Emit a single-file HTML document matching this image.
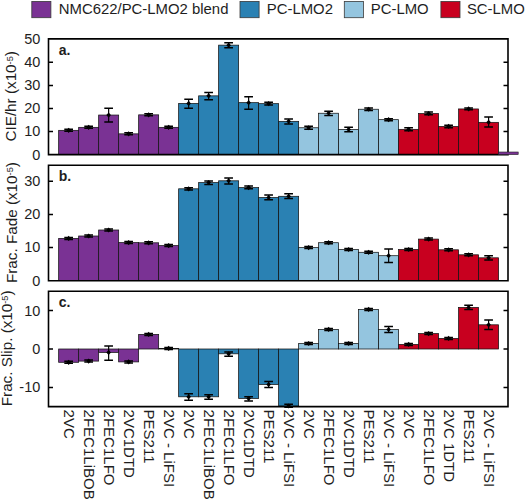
<!DOCTYPE html>
<html><head><meta charset="utf-8"><style>
html,body{margin:0;padding:0;background:#fff;}
body{width:525px;height:501px;overflow:hidden;}
svg{display:block;font-family:"Liberation Sans",sans-serif;}
.tk{font-size:14.5px;fill:#1e1e1e;}
.lt{font-size:14px;font-weight:bold;fill:#1e1e1e;}
.yl{font-size:15px;fill:#1e1e1e;}
.sup{font-size:9px;}
.xl{font-size:15px;fill:#1e1e1e;}
.lg{font-size:14.9px;fill:#1e1e1e;}
</style></head><body>
<svg width="525" height="501" viewBox="0 0 525 501">
<rect x="58.65" y="130.35" width="20" height="24.25" fill="#7a3294" stroke="#151515" stroke-width="0.75"/>
<rect x="78.65" y="127.35" width="20" height="27.25" fill="#7a3294" stroke="#151515" stroke-width="0.75"/>
<rect x="98.65" y="115.05" width="20" height="39.55" fill="#7a3294" stroke="#151515" stroke-width="0.75"/>
<rect x="118.64" y="133.85" width="20" height="20.75" fill="#7a3294" stroke="#151515" stroke-width="0.75"/>
<rect x="138.64" y="114.85" width="20" height="39.75" fill="#7a3294" stroke="#151515" stroke-width="0.75"/>
<rect x="158.64" y="127.35" width="20" height="27.25" fill="#7a3294" stroke="#151515" stroke-width="0.75"/>
<rect x="178.64" y="103.45" width="20" height="51.15" fill="#2a81b3" stroke="#151515" stroke-width="0.75"/>
<rect x="198.64" y="95.85" width="20" height="58.75" fill="#2a81b3" stroke="#151515" stroke-width="0.75"/>
<rect x="218.63" y="45.15" width="20" height="109.45" fill="#2a81b3" stroke="#151515" stroke-width="0.75"/>
<rect x="238.63" y="102.65" width="20" height="51.95" fill="#2a81b3" stroke="#151515" stroke-width="0.75"/>
<rect x="258.63" y="103.65" width="20" height="50.95" fill="#2a81b3" stroke="#151515" stroke-width="0.75"/>
<rect x="278.63" y="121.35" width="20" height="33.25" fill="#2a81b3" stroke="#151515" stroke-width="0.75"/>
<rect x="298.63" y="127.75" width="20" height="26.85" fill="#94c5df" stroke="#151515" stroke-width="0.75"/>
<rect x="318.62" y="113.25" width="20" height="41.35" fill="#94c5df" stroke="#151515" stroke-width="0.75"/>
<rect x="338.62" y="129.45" width="20" height="25.15" fill="#94c5df" stroke="#151515" stroke-width="0.75"/>
<rect x="358.62" y="109.25" width="20" height="45.35" fill="#94c5df" stroke="#151515" stroke-width="0.75"/>
<rect x="378.62" y="119.65" width="20" height="34.95" fill="#94c5df" stroke="#151515" stroke-width="0.75"/>
<rect x="398.62" y="129.35" width="20" height="25.25" fill="#c8001f" stroke="#151515" stroke-width="0.75"/>
<rect x="418.61" y="113.55" width="20" height="41.05" fill="#c8001f" stroke="#151515" stroke-width="0.75"/>
<rect x="438.61" y="126.45" width="20" height="28.15" fill="#c8001f" stroke="#151515" stroke-width="0.75"/>
<rect x="458.61" y="108.95" width="20" height="45.65" fill="#c8001f" stroke="#151515" stroke-width="0.75"/>
<rect x="478.61" y="122.35" width="20" height="32.25" fill="#c8001f" stroke="#151515" stroke-width="0.75"/>
<path d="M64.3 129.35H73M64.3 131.35H73" stroke="#000" stroke-width="1.5" fill="none"/>
<path d="M68.65 129.35V131.35" stroke="#000" stroke-width="1.2" fill="none"/>
<path d="M68.65 127.75L70.95 130.35L68.65 132.95L66.35 130.35Z" fill="#000"/>
<path d="M84.3 126.35H93M84.3 128.35H93" stroke="#000" stroke-width="1.5" fill="none"/>
<path d="M88.65 126.35V128.35" stroke="#000" stroke-width="1.2" fill="none"/>
<path d="M88.65 124.75L90.95 127.35L88.65 129.95L86.35 127.35Z" fill="#000"/>
<path d="M104.3 108.35H112.99M104.3 121.95H112.99" stroke="#000" stroke-width="1.5" fill="none"/>
<path d="M108.64 108.35V121.95" stroke="#000" stroke-width="1.2" fill="none"/>
<path d="M108.64 112.45L110.94 115.05L108.64 117.65L106.34 115.05Z" fill="#000"/>
<path d="M124.29 132.85H132.99M124.29 134.85H132.99" stroke="#000" stroke-width="1.5" fill="none"/>
<path d="M128.64 132.85V134.85" stroke="#000" stroke-width="1.2" fill="none"/>
<path d="M128.64 131.25L130.94 133.85L128.64 136.45L126.34 133.85Z" fill="#000"/>
<path d="M144.29 113.85H152.99M144.29 115.85H152.99" stroke="#000" stroke-width="1.5" fill="none"/>
<path d="M148.64 113.85V115.85" stroke="#000" stroke-width="1.2" fill="none"/>
<path d="M148.64 112.25L150.94 114.85L148.64 117.45L146.34 114.85Z" fill="#000"/>
<path d="M164.29 126.35H172.99M164.29 128.35H172.99" stroke="#000" stroke-width="1.5" fill="none"/>
<path d="M168.64 126.35V128.35" stroke="#000" stroke-width="1.2" fill="none"/>
<path d="M168.64 124.75L170.94 127.35L168.64 129.95L166.34 127.35Z" fill="#000"/>
<path d="M184.29 99.35H192.99M184.29 108.25H192.99" stroke="#000" stroke-width="1.5" fill="none"/>
<path d="M188.64 99.35V108.25" stroke="#000" stroke-width="1.2" fill="none"/>
<path d="M188.64 100.85L190.94 103.45L188.64 106.05L186.34 103.45Z" fill="#000"/>
<path d="M204.29 92.55H212.99M204.29 99.85H212.99" stroke="#000" stroke-width="1.5" fill="none"/>
<path d="M208.64 92.55V99.85" stroke="#000" stroke-width="1.2" fill="none"/>
<path d="M208.64 93.25L210.94 95.85L208.64 98.45L206.34 95.85Z" fill="#000"/>
<path d="M224.28 42.65H232.98M224.28 47.75H232.98" stroke="#000" stroke-width="1.5" fill="none"/>
<path d="M228.63 42.65V47.75" stroke="#000" stroke-width="1.2" fill="none"/>
<path d="M228.63 42.55L230.93 45.15L228.63 47.75L226.33 45.15Z" fill="#000"/>
<path d="M244.28 96.65H252.98M244.28 109.35H252.98" stroke="#000" stroke-width="1.5" fill="none"/>
<path d="M248.63 96.65V109.35" stroke="#000" stroke-width="1.2" fill="none"/>
<path d="M248.63 100.05L250.93 102.65L248.63 105.25L246.33 102.65Z" fill="#000"/>
<path d="M264.28 102.25H272.98M264.28 104.95H272.98" stroke="#000" stroke-width="1.5" fill="none"/>
<path d="M268.63 102.25V104.95" stroke="#000" stroke-width="1.2" fill="none"/>
<path d="M268.63 101.05L270.93 103.65L268.63 106.25L266.33 103.65Z" fill="#000"/>
<path d="M284.28 118.95H292.98M284.28 124.05H292.98" stroke="#000" stroke-width="1.5" fill="none"/>
<path d="M288.63 118.95V124.05" stroke="#000" stroke-width="1.2" fill="none"/>
<path d="M288.63 118.75L290.93 121.35L288.63 123.95L286.33 121.35Z" fill="#000"/>
<path d="M304.27 126.25H312.98M304.27 129.35H312.98" stroke="#000" stroke-width="1.5" fill="none"/>
<path d="M308.62 126.25V129.35" stroke="#000" stroke-width="1.2" fill="none"/>
<path d="M308.62 125.15L310.93 127.75L308.62 130.35L306.32 127.75Z" fill="#000"/>
<path d="M324.27 111.15H332.97M324.27 115.45H332.97" stroke="#000" stroke-width="1.5" fill="none"/>
<path d="M328.62 111.15V115.45" stroke="#000" stroke-width="1.2" fill="none"/>
<path d="M328.62 110.65L330.92 113.25L328.62 115.85L326.32 113.25Z" fill="#000"/>
<path d="M344.27 127.15H352.97M344.27 131.65H352.97" stroke="#000" stroke-width="1.5" fill="none"/>
<path d="M348.62 127.15V131.65" stroke="#000" stroke-width="1.2" fill="none"/>
<path d="M348.62 126.85L350.92 129.45L348.62 132.05L346.32 129.45Z" fill="#000"/>
<path d="M364.27 107.95H372.97M364.27 110.55H372.97" stroke="#000" stroke-width="1.5" fill="none"/>
<path d="M368.62 107.95V110.55" stroke="#000" stroke-width="1.2" fill="none"/>
<path d="M368.62 106.65L370.92 109.25L368.62 111.85L366.32 109.25Z" fill="#000"/>
<path d="M384.27 118.65H392.97M384.27 120.85H392.97" stroke="#000" stroke-width="1.5" fill="none"/>
<path d="M388.62 118.65V120.85" stroke="#000" stroke-width="1.2" fill="none"/>
<path d="M388.62 117.05L390.92 119.65L388.62 122.25L386.32 119.65Z" fill="#000"/>
<path d="M404.26 127.75H412.97M404.26 130.65H412.97" stroke="#000" stroke-width="1.5" fill="none"/>
<path d="M408.62 127.75V130.65" stroke="#000" stroke-width="1.2" fill="none"/>
<path d="M408.62 126.75L410.92 129.35L408.62 131.95L406.31 129.35Z" fill="#000"/>
<path d="M424.26 111.95H432.96M424.26 114.85H432.96" stroke="#000" stroke-width="1.5" fill="none"/>
<path d="M428.61 111.95V114.85" stroke="#000" stroke-width="1.2" fill="none"/>
<path d="M428.61 110.95L430.91 113.55L428.61 116.15L426.31 113.55Z" fill="#000"/>
<path d="M444.26 125.15H452.96M444.26 127.75H452.96" stroke="#000" stroke-width="1.5" fill="none"/>
<path d="M448.61 125.15V127.75" stroke="#000" stroke-width="1.2" fill="none"/>
<path d="M448.61 123.85L450.91 126.45L448.61 129.05L446.31 126.45Z" fill="#000"/>
<path d="M464.26 108.05H472.96M464.26 109.85H472.96" stroke="#000" stroke-width="1.5" fill="none"/>
<path d="M468.61 108.05V109.85" stroke="#000" stroke-width="1.2" fill="none"/>
<path d="M468.61 106.35L470.91 108.95L468.61 111.55L466.31 108.95Z" fill="#000"/>
<path d="M484.26 116.95H492.96M484.26 126.95H492.96" stroke="#000" stroke-width="1.5" fill="none"/>
<path d="M488.61 116.95V126.95" stroke="#000" stroke-width="1.2" fill="none"/>
<path d="M488.61 119.75L490.91 122.35L488.61 124.95L486.31 122.35Z" fill="#000"/>
<path d="M48.5 38.9H508.0V154.6H48.5Z" fill="none" stroke="#000" stroke-width="1.6"/>
<path d="M48.5 131.54H53.0M508.0 131.54H503.5" stroke="#000" stroke-width="1.5"/>
<path d="M48.5 108.48H53.0M508.0 108.48H503.5" stroke="#000" stroke-width="1.5"/>
<path d="M48.5 85.42H53.0M508.0 85.42H503.5" stroke="#000" stroke-width="1.5"/>
<path d="M48.5 62.36H53.0M508.0 62.36H503.5" stroke="#000" stroke-width="1.5"/>
<text transform="translate(40.3 44.2) scale(1 1.06)" text-anchor="end" class="tk">50</text>
<text transform="translate(40.3 67.26) scale(1 1.06)" text-anchor="end" class="tk">40</text>
<text transform="translate(40.3 90.32) scale(1 1.06)" text-anchor="end" class="tk">30</text>
<text transform="translate(40.3 113.38) scale(1 1.06)" text-anchor="end" class="tk">20</text>
<text transform="translate(40.3 136.44) scale(1 1.06)" text-anchor="end" class="tk">10</text>
<text transform="translate(40.3 159.5) scale(1 1.06)" text-anchor="end" class="tk">0</text>
<text x="58.7" y="54.7" class="lt">a.</text>
<text transform="translate(16.4 96.35) rotate(-90) scale(1.018 1)" text-anchor="middle" class="yl">CIE/hr (x10<tspan class="sup" dy="-3.6">-5</tspan><tspan dy="3.6">)</tspan></text>
<rect x="58.65" y="238.4" width="20" height="42.2" fill="#7a3294" stroke="#151515" stroke-width="0.75"/>
<rect x="78.65" y="236" width="20" height="44.6" fill="#7a3294" stroke="#151515" stroke-width="0.75"/>
<rect x="98.65" y="230" width="20" height="50.6" fill="#7a3294" stroke="#151515" stroke-width="0.75"/>
<rect x="118.64" y="242.6" width="20" height="38" fill="#7a3294" stroke="#151515" stroke-width="0.75"/>
<rect x="138.64" y="242.8" width="20" height="37.8" fill="#7a3294" stroke="#151515" stroke-width="0.75"/>
<rect x="158.64" y="245.6" width="20" height="35" fill="#7a3294" stroke="#151515" stroke-width="0.75"/>
<rect x="178.64" y="188.8" width="20" height="91.8" fill="#2a81b3" stroke="#151515" stroke-width="0.75"/>
<rect x="198.64" y="182.6" width="20" height="98" fill="#2a81b3" stroke="#151515" stroke-width="0.75"/>
<rect x="218.63" y="180.8" width="20" height="99.8" fill="#2a81b3" stroke="#151515" stroke-width="0.75"/>
<rect x="238.63" y="187.6" width="20" height="93" fill="#2a81b3" stroke="#151515" stroke-width="0.75"/>
<rect x="258.63" y="197.5" width="20" height="83.1" fill="#2a81b3" stroke="#151515" stroke-width="0.75"/>
<rect x="278.63" y="196.3" width="20" height="84.3" fill="#2a81b3" stroke="#151515" stroke-width="0.75"/>
<rect x="298.63" y="247.6" width="20" height="33" fill="#94c5df" stroke="#151515" stroke-width="0.75"/>
<rect x="318.62" y="242.7" width="20" height="37.9" fill="#94c5df" stroke="#151515" stroke-width="0.75"/>
<rect x="338.62" y="249.5" width="20" height="31.1" fill="#94c5df" stroke="#151515" stroke-width="0.75"/>
<rect x="358.62" y="252.3" width="20" height="28.3" fill="#94c5df" stroke="#151515" stroke-width="0.75"/>
<rect x="378.62" y="255.7" width="20" height="24.9" fill="#94c5df" stroke="#151515" stroke-width="0.75"/>
<rect x="398.62" y="249.5" width="20" height="31.1" fill="#c8001f" stroke="#151515" stroke-width="0.75"/>
<rect x="418.61" y="239.1" width="20" height="41.5" fill="#c8001f" stroke="#151515" stroke-width="0.75"/>
<rect x="438.61" y="249.8" width="20" height="30.8" fill="#c8001f" stroke="#151515" stroke-width="0.75"/>
<rect x="458.61" y="254.8" width="20" height="25.8" fill="#c8001f" stroke="#151515" stroke-width="0.75"/>
<rect x="478.61" y="257.8" width="20" height="22.8" fill="#c8001f" stroke="#151515" stroke-width="0.75"/>
<path d="M64.3 237.4H73M64.3 239.4H73" stroke="#000" stroke-width="1.5" fill="none"/>
<path d="M68.65 237.4V239.4" stroke="#000" stroke-width="1.2" fill="none"/>
<path d="M68.65 235.8L70.95 238.4L68.65 241L66.35 238.4Z" fill="#000"/>
<path d="M84.3 235H93M84.3 237H93" stroke="#000" stroke-width="1.5" fill="none"/>
<path d="M88.65 235V237" stroke="#000" stroke-width="1.2" fill="none"/>
<path d="M88.65 233.4L90.95 236L88.65 238.6L86.35 236Z" fill="#000"/>
<path d="M104.3 229H112.99M104.3 231H112.99" stroke="#000" stroke-width="1.5" fill="none"/>
<path d="M108.64 229V231" stroke="#000" stroke-width="1.2" fill="none"/>
<path d="M108.64 227.4L110.94 230L108.64 232.6L106.34 230Z" fill="#000"/>
<path d="M124.29 241.6H132.99M124.29 243.6H132.99" stroke="#000" stroke-width="1.5" fill="none"/>
<path d="M128.64 241.6V243.6" stroke="#000" stroke-width="1.2" fill="none"/>
<path d="M128.64 240L130.94 242.6L128.64 245.2L126.34 242.6Z" fill="#000"/>
<path d="M144.29 241.8H152.99M144.29 243.8H152.99" stroke="#000" stroke-width="1.5" fill="none"/>
<path d="M148.64 241.8V243.8" stroke="#000" stroke-width="1.2" fill="none"/>
<path d="M148.64 240.2L150.94 242.8L148.64 245.4L146.34 242.8Z" fill="#000"/>
<path d="M164.29 244.6H172.99M164.29 246.6H172.99" stroke="#000" stroke-width="1.5" fill="none"/>
<path d="M168.64 244.6V246.6" stroke="#000" stroke-width="1.2" fill="none"/>
<path d="M168.64 243L170.94 245.6L168.64 248.2L166.34 245.6Z" fill="#000"/>
<path d="M184.29 187.8H192.99M184.29 190.1H192.99" stroke="#000" stroke-width="1.5" fill="none"/>
<path d="M188.64 187.8V190.1" stroke="#000" stroke-width="1.2" fill="none"/>
<path d="M188.64 186.2L190.94 188.8L188.64 191.4L186.34 188.8Z" fill="#000"/>
<path d="M204.29 181.1H212.99M204.29 184.5H212.99" stroke="#000" stroke-width="1.5" fill="none"/>
<path d="M208.64 181.1V184.5" stroke="#000" stroke-width="1.2" fill="none"/>
<path d="M208.64 180L210.94 182.6L208.64 185.2L206.34 182.6Z" fill="#000"/>
<path d="M224.28 177.9H232.98M224.28 183.9H232.98" stroke="#000" stroke-width="1.5" fill="none"/>
<path d="M228.63 177.9V183.9" stroke="#000" stroke-width="1.2" fill="none"/>
<path d="M228.63 178.2L230.93 180.8L228.63 183.4L226.33 180.8Z" fill="#000"/>
<path d="M244.28 186.1H252.98M244.28 188.8H252.98" stroke="#000" stroke-width="1.5" fill="none"/>
<path d="M248.63 186.1V188.8" stroke="#000" stroke-width="1.2" fill="none"/>
<path d="M248.63 185L250.93 187.6L248.63 190.2L246.33 187.6Z" fill="#000"/>
<path d="M264.28 195H272.98M264.28 199.7H272.98" stroke="#000" stroke-width="1.5" fill="none"/>
<path d="M268.63 195V199.7" stroke="#000" stroke-width="1.2" fill="none"/>
<path d="M268.63 194.9L270.93 197.5L268.63 200.1L266.33 197.5Z" fill="#000"/>
<path d="M284.28 193.8H292.98M284.28 198.5H292.98" stroke="#000" stroke-width="1.5" fill="none"/>
<path d="M288.63 193.8V198.5" stroke="#000" stroke-width="1.2" fill="none"/>
<path d="M288.63 193.7L290.93 196.3L288.63 198.9L286.33 196.3Z" fill="#000"/>
<path d="M304.27 246.6H312.98M304.27 248.6H312.98" stroke="#000" stroke-width="1.5" fill="none"/>
<path d="M308.62 246.6V248.6" stroke="#000" stroke-width="1.2" fill="none"/>
<path d="M308.62 245L310.93 247.6L308.62 250.2L306.32 247.6Z" fill="#000"/>
<path d="M324.27 241.7H332.97M324.27 243.7H332.97" stroke="#000" stroke-width="1.5" fill="none"/>
<path d="M328.62 241.7V243.7" stroke="#000" stroke-width="1.2" fill="none"/>
<path d="M328.62 240.1L330.92 242.7L328.62 245.3L326.32 242.7Z" fill="#000"/>
<path d="M344.27 248.5H352.97M344.27 250.5H352.97" stroke="#000" stroke-width="1.5" fill="none"/>
<path d="M348.62 248.5V250.5" stroke="#000" stroke-width="1.2" fill="none"/>
<path d="M348.62 246.9L350.92 249.5L348.62 252.1L346.32 249.5Z" fill="#000"/>
<path d="M364.27 251.3H372.97M364.27 253.3H372.97" stroke="#000" stroke-width="1.5" fill="none"/>
<path d="M368.62 251.3V253.3" stroke="#000" stroke-width="1.2" fill="none"/>
<path d="M368.62 249.7L370.92 252.3L368.62 254.9L366.32 252.3Z" fill="#000"/>
<path d="M384.27 248.9H392.97M384.27 262.5H392.97" stroke="#000" stroke-width="1.5" fill="none"/>
<path d="M388.62 248.9V262.5" stroke="#000" stroke-width="1.2" fill="none"/>
<path d="M388.62 253.1L390.92 255.7L388.62 258.3L386.32 255.7Z" fill="#000"/>
<path d="M404.26 248.5H412.97M404.26 250.5H412.97" stroke="#000" stroke-width="1.5" fill="none"/>
<path d="M408.62 248.5V250.5" stroke="#000" stroke-width="1.2" fill="none"/>
<path d="M408.62 246.9L410.92 249.5L408.62 252.1L406.31 249.5Z" fill="#000"/>
<path d="M424.26 238.1H432.96M424.26 240.1H432.96" stroke="#000" stroke-width="1.5" fill="none"/>
<path d="M428.61 238.1V240.1" stroke="#000" stroke-width="1.2" fill="none"/>
<path d="M428.61 236.5L430.91 239.1L428.61 241.7L426.31 239.1Z" fill="#000"/>
<path d="M444.26 248.8H452.96M444.26 250.8H452.96" stroke="#000" stroke-width="1.5" fill="none"/>
<path d="M448.61 248.8V250.8" stroke="#000" stroke-width="1.2" fill="none"/>
<path d="M448.61 247.2L450.91 249.8L448.61 252.4L446.31 249.8Z" fill="#000"/>
<path d="M464.26 253.8H472.96M464.26 255.8H472.96" stroke="#000" stroke-width="1.5" fill="none"/>
<path d="M468.61 253.8V255.8" stroke="#000" stroke-width="1.2" fill="none"/>
<path d="M468.61 252.2L470.91 254.8L468.61 257.4L466.31 254.8Z" fill="#000"/>
<path d="M484.26 255.7H492.96M484.26 259.9H492.96" stroke="#000" stroke-width="1.5" fill="none"/>
<path d="M488.61 255.7V259.9" stroke="#000" stroke-width="1.2" fill="none"/>
<path d="M488.61 255.2L490.91 257.8L488.61 260.4L486.31 257.8Z" fill="#000"/>
<path d="M48.5 165.2H508.0V280.7H48.5Z" fill="none" stroke="#000" stroke-width="1.6"/>
<path d="M48.5 247.5H53.0M508.0 247.5H503.5" stroke="#000" stroke-width="1.5"/>
<path d="M48.5 214.4H53.0M508.0 214.4H503.5" stroke="#000" stroke-width="1.5"/>
<path d="M48.5 181.3H53.0M508.0 181.3H503.5" stroke="#000" stroke-width="1.5"/>
<text transform="translate(40.3 186.2) scale(1 1.06)" text-anchor="end" class="tk">30</text>
<text transform="translate(40.3 219.3) scale(1 1.06)" text-anchor="end" class="tk">20</text>
<text transform="translate(40.3 252.4) scale(1 1.06)" text-anchor="end" class="tk">10</text>
<text transform="translate(40.3 285.5) scale(1 1.06)" text-anchor="end" class="tk">0</text>
<text x="58.7" y="181" class="lt">b.</text>
<text transform="translate(16.6 222.65) rotate(-90) scale(1.018 1)" text-anchor="middle" class="yl">Frac. Fade (x10<tspan class="sup" dy="-3.6">-5</tspan><tspan dy="3.6">)</tspan></text>
<rect x="58.65" y="349" width="20" height="13.3" fill="#7a3294" stroke="#151515" stroke-width="0.75"/>
<rect x="78.65" y="349" width="20" height="12.1" fill="#7a3294" stroke="#151515" stroke-width="0.75"/>
<rect x="98.65" y="349" width="20" height="3.4" fill="#7a3294" stroke="#151515" stroke-width="0.75"/>
<rect x="118.64" y="349" width="20" height="12.9" fill="#7a3294" stroke="#151515" stroke-width="0.75"/>
<rect x="138.64" y="334.4" width="20" height="14.6" fill="#7a3294" stroke="#151515" stroke-width="0.75"/>
<rect x="158.64" y="348.4" width="20" height="0.6" fill="#7a3294" stroke="#151515" stroke-width="0.75"/>
<rect x="178.64" y="349" width="20" height="47.8" fill="#2a81b3" stroke="#151515" stroke-width="0.75"/>
<rect x="198.64" y="349" width="20" height="47.8" fill="#2a81b3" stroke="#151515" stroke-width="0.75"/>
<rect x="218.63" y="349" width="20" height="4.8" fill="#2a81b3" stroke="#151515" stroke-width="0.75"/>
<rect x="238.63" y="349" width="20" height="49.4" fill="#2a81b3" stroke="#151515" stroke-width="0.75"/>
<rect x="258.63" y="349" width="20" height="35.5" fill="#2a81b3" stroke="#151515" stroke-width="0.75"/>
<rect x="278.63" y="349" width="20" height="57" fill="#2a81b3" stroke="#151515" stroke-width="0.75"/>
<rect x="298.63" y="343.5" width="20" height="5.5" fill="#94c5df" stroke="#151515" stroke-width="0.75"/>
<rect x="318.62" y="329.4" width="20" height="19.6" fill="#94c5df" stroke="#151515" stroke-width="0.75"/>
<rect x="338.62" y="343.5" width="20" height="5.5" fill="#94c5df" stroke="#151515" stroke-width="0.75"/>
<rect x="358.62" y="309.4" width="20" height="39.6" fill="#94c5df" stroke="#151515" stroke-width="0.75"/>
<rect x="378.62" y="329.5" width="20" height="19.5" fill="#94c5df" stroke="#151515" stroke-width="0.75"/>
<rect x="398.62" y="344.4" width="20" height="4.6" fill="#c8001f" stroke="#151515" stroke-width="0.75"/>
<rect x="418.61" y="333.6" width="20" height="15.4" fill="#c8001f" stroke="#151515" stroke-width="0.75"/>
<rect x="438.61" y="338.4" width="20" height="10.6" fill="#c8001f" stroke="#151515" stroke-width="0.75"/>
<rect x="458.61" y="307.4" width="20" height="41.6" fill="#c8001f" stroke="#151515" stroke-width="0.75"/>
<rect x="478.61" y="324.8" width="20" height="24.2" fill="#c8001f" stroke="#151515" stroke-width="0.75"/>
<path d="M64.3 361.3H73M64.3 363.3H73" stroke="#000" stroke-width="1.5" fill="none"/>
<path d="M68.65 361.3V363.3" stroke="#000" stroke-width="1.2" fill="none"/>
<path d="M68.65 359.7L70.95 362.3L68.65 364.9L66.35 362.3Z" fill="#000"/>
<path d="M84.3 360.1H93M84.3 362.1H93" stroke="#000" stroke-width="1.5" fill="none"/>
<path d="M88.65 360.1V362.1" stroke="#000" stroke-width="1.2" fill="none"/>
<path d="M88.65 358.5L90.95 361.1L88.65 363.7L86.35 361.1Z" fill="#000"/>
<path d="M104.3 346H112.99M104.3 360.2H112.99" stroke="#000" stroke-width="1.5" fill="none"/>
<path d="M108.64 346V360.2" stroke="#000" stroke-width="1.2" fill="none"/>
<path d="M108.64 349.8L110.94 352.4L108.64 355L106.34 352.4Z" fill="#000"/>
<path d="M124.29 360.9H132.99M124.29 362.9H132.99" stroke="#000" stroke-width="1.5" fill="none"/>
<path d="M128.64 360.9V362.9" stroke="#000" stroke-width="1.2" fill="none"/>
<path d="M128.64 359.3L130.94 361.9L128.64 364.5L126.34 361.9Z" fill="#000"/>
<path d="M144.29 333.4H152.99M144.29 335.4H152.99" stroke="#000" stroke-width="1.5" fill="none"/>
<path d="M148.64 333.4V335.4" stroke="#000" stroke-width="1.2" fill="none"/>
<path d="M148.64 331.8L150.94 334.4L148.64 337L146.34 334.4Z" fill="#000"/>
<path d="M164.29 347.4H172.99M164.29 349.4H172.99" stroke="#000" stroke-width="1.5" fill="none"/>
<path d="M168.64 347.4V349.4" stroke="#000" stroke-width="1.2" fill="none"/>
<path d="M168.64 345.8L170.94 348.4L168.64 351L166.34 348.4Z" fill="#000"/>
<path d="M184.29 393.7H192.99M184.29 400.3H192.99" stroke="#000" stroke-width="1.5" fill="none"/>
<path d="M188.64 393.7V400.3" stroke="#000" stroke-width="1.2" fill="none"/>
<path d="M188.64 394.2L190.94 396.8L188.64 399.4L186.34 396.8Z" fill="#000"/>
<path d="M204.29 394.7H212.99M204.29 399.3H212.99" stroke="#000" stroke-width="1.5" fill="none"/>
<path d="M208.64 394.7V399.3" stroke="#000" stroke-width="1.2" fill="none"/>
<path d="M208.64 394.2L210.94 396.8L208.64 399.4L206.34 396.8Z" fill="#000"/>
<path d="M224.28 352.1H232.98M224.28 356.3H232.98" stroke="#000" stroke-width="1.5" fill="none"/>
<path d="M228.63 352.1V356.3" stroke="#000" stroke-width="1.2" fill="none"/>
<path d="M228.63 351.2L230.93 353.8L228.63 356.4L226.33 353.8Z" fill="#000"/>
<path d="M244.28 396.8H252.98M244.28 401H252.98" stroke="#000" stroke-width="1.5" fill="none"/>
<path d="M248.63 396.8V401" stroke="#000" stroke-width="1.2" fill="none"/>
<path d="M248.63 395.8L250.93 398.4L248.63 401L246.33 398.4Z" fill="#000"/>
<path d="M264.28 381.4H272.98M264.28 387.6H272.98" stroke="#000" stroke-width="1.5" fill="none"/>
<path d="M268.63 381.4V387.6" stroke="#000" stroke-width="1.2" fill="none"/>
<path d="M268.63 381.9L270.93 384.5L268.63 387.1L266.33 384.5Z" fill="#000"/>
<path d="M284.28 404.2H292.98M284.28 407.2H292.98" stroke="#000" stroke-width="1.5" fill="none"/>
<path d="M288.63 404.2V407.2" stroke="#000" stroke-width="1.2" fill="none"/>
<path d="M288.63 403.4L290.93 406L288.63 408.6L286.33 406Z" fill="#000"/>
<path d="M304.27 342.5H312.98M304.27 344.5H312.98" stroke="#000" stroke-width="1.5" fill="none"/>
<path d="M308.62 342.5V344.5" stroke="#000" stroke-width="1.2" fill="none"/>
<path d="M308.62 340.9L310.93 343.5L308.62 346.1L306.32 343.5Z" fill="#000"/>
<path d="M324.27 328.4H332.97M324.27 330.4H332.97" stroke="#000" stroke-width="1.5" fill="none"/>
<path d="M328.62 328.4V330.4" stroke="#000" stroke-width="1.2" fill="none"/>
<path d="M328.62 326.8L330.92 329.4L328.62 332L326.32 329.4Z" fill="#000"/>
<path d="M344.27 342.5H352.97M344.27 344.5H352.97" stroke="#000" stroke-width="1.5" fill="none"/>
<path d="M348.62 342.5V344.5" stroke="#000" stroke-width="1.2" fill="none"/>
<path d="M348.62 340.9L350.92 343.5L348.62 346.1L346.32 343.5Z" fill="#000"/>
<path d="M364.27 308.4H372.97M364.27 310.4H372.97" stroke="#000" stroke-width="1.5" fill="none"/>
<path d="M368.62 308.4V310.4" stroke="#000" stroke-width="1.2" fill="none"/>
<path d="M368.62 306.8L370.92 309.4L368.62 312L366.32 309.4Z" fill="#000"/>
<path d="M384.27 326.4H392.97M384.27 332.6H392.97" stroke="#000" stroke-width="1.5" fill="none"/>
<path d="M388.62 326.4V332.6" stroke="#000" stroke-width="1.2" fill="none"/>
<path d="M388.62 326.9L390.92 329.5L388.62 332.1L386.32 329.5Z" fill="#000"/>
<path d="M404.26 343.4H412.97M404.26 345.4H412.97" stroke="#000" stroke-width="1.5" fill="none"/>
<path d="M408.62 343.4V345.4" stroke="#000" stroke-width="1.2" fill="none"/>
<path d="M408.62 341.8L410.92 344.4L408.62 347L406.31 344.4Z" fill="#000"/>
<path d="M424.26 332.6H432.96M424.26 334.6H432.96" stroke="#000" stroke-width="1.5" fill="none"/>
<path d="M428.61 332.6V334.6" stroke="#000" stroke-width="1.2" fill="none"/>
<path d="M428.61 331L430.91 333.6L428.61 336.2L426.31 333.6Z" fill="#000"/>
<path d="M444.26 337.4H452.96M444.26 339.4H452.96" stroke="#000" stroke-width="1.5" fill="none"/>
<path d="M448.61 337.4V339.4" stroke="#000" stroke-width="1.2" fill="none"/>
<path d="M448.61 335.8L450.91 338.4L448.61 341L446.31 338.4Z" fill="#000"/>
<path d="M464.26 305.3H472.96M464.26 309.5H472.96" stroke="#000" stroke-width="1.5" fill="none"/>
<path d="M468.61 305.3V309.5" stroke="#000" stroke-width="1.2" fill="none"/>
<path d="M468.61 304.8L470.91 307.4L468.61 310L466.31 307.4Z" fill="#000"/>
<path d="M484.26 320H492.96M484.26 329.6H492.96" stroke="#000" stroke-width="1.5" fill="none"/>
<path d="M488.61 320V329.6" stroke="#000" stroke-width="1.2" fill="none"/>
<path d="M488.61 322.2L490.91 324.8L488.61 327.4L486.31 324.8Z" fill="#000"/>
<path d="M48.5 291.3H508.0V406.6H48.5Z" fill="none" stroke="#000" stroke-width="1.6"/>
<path d="M48.5 387.4H53.0M508.0 387.4H503.5" stroke="#000" stroke-width="1.5"/>
<path d="M48.5 349H53.0M508.0 349H503.5" stroke="#000" stroke-width="1.5"/>
<path d="M48.5 310.6H53.0M508.0 310.6H503.5" stroke="#000" stroke-width="1.5"/>
<text transform="translate(40.3 315.5) scale(1 1.06)" text-anchor="end" class="tk">10</text>
<text transform="translate(40.3 353.9) scale(1 1.06)" text-anchor="end" class="tk">0</text>
<text transform="translate(40.3 392.3) scale(1 1.06)" text-anchor="end" class="tk">-10</text>
<text x="58.7" y="307.1" class="lt">c.</text>
<text transform="translate(11.9 348.35) rotate(-90) scale(1.018 1)" text-anchor="middle" class="yl">Frac. Slip. (x10<tspan class="sup" dy="-3.6">-5</tspan><tspan dy="3.6">)</tspan></text>
<rect x="498.6" y="152" width="19.6" height="2.6" fill="#7a3294" stroke="#222" stroke-width="0.6"/>
<text transform="translate(63.85 409.6) rotate(90)" class="xl">2VC</text>
<text transform="translate(83.85 409.6) rotate(90)" class="xl">2FEC1LiBOB</text>
<text transform="translate(103.84 409.6) rotate(90)" class="xl">2FEC1LFO</text>
<text transform="translate(123.84 409.6) rotate(90)" class="xl">2VC1DTD</text>
<text transform="translate(143.84 409.6) rotate(90)" class="xl">PES211</text>
<text transform="translate(163.84 409.6) rotate(90)" class="xl">2VC - LiFSI</text>
<text transform="translate(183.84 409.6) rotate(90)" class="xl">2VC</text>
<text transform="translate(203.84 409.6) rotate(90)" class="xl">2FEC1LiBOB</text>
<text transform="translate(223.83 409.6) rotate(90)" class="xl">2FEC1LFO</text>
<text transform="translate(243.83 409.6) rotate(90)" class="xl">2VC1DTD</text>
<text transform="translate(263.83 409.6) rotate(90)" class="xl">PES211</text>
<text transform="translate(283.83 409.6) rotate(90)" class="xl">2VC - LiFSI</text>
<text transform="translate(303.82 409.6) rotate(90)" class="xl">2VC</text>
<text transform="translate(323.82 409.6) rotate(90)" class="xl">2FEC1LFO</text>
<text transform="translate(343.82 409.6) rotate(90)" class="xl">2VC1DTD</text>
<text transform="translate(363.82 409.6) rotate(90)" class="xl">PES211</text>
<text transform="translate(383.82 409.6) rotate(90)" class="xl">2VC - LiFSI</text>
<text transform="translate(403.81 409.6) rotate(90)" class="xl">2VC</text>
<text transform="translate(423.81 409.6) rotate(90)" class="xl">2FEC1LFO</text>
<text transform="translate(443.81 409.6) rotate(90)" class="xl">2VC 1DTD</text>
<text transform="translate(463.81 409.6) rotate(90)" class="xl">PES211</text>
<text transform="translate(483.81 409.6) rotate(90)" class="xl">2VC - LiFSI</text>
<rect x="31.8" y="1.4" width="19.1" height="16.3" fill="#7a3294" stroke="#3a3a3a" stroke-width="0.8"/>
<text transform="translate(58.8 14.3) scale(1 1.04)" class="lg">NMC622/PC-LMO2 blend</text>
<rect x="240" y="1.4" width="19.1" height="16.3" fill="#2a81b3" stroke="#3a3a3a" stroke-width="0.8"/>
<text transform="translate(266.8 14.3) scale(1 1.04)" class="lg">PC-LMO2</text>
<rect x="344.3" y="1.4" width="19.1" height="16.3" fill="#94c5df" stroke="#3a3a3a" stroke-width="0.8"/>
<text transform="translate(370.8 14.3) scale(1 1.04)" class="lg">PC-LMO</text>
<rect x="440.9" y="1.4" width="19.1" height="16.3" fill="#c8001f" stroke="#3a3a3a" stroke-width="0.8"/>
<text transform="translate(466.9 14.3) scale(1 1.04)" class="lg">SC-LMO</text>
</svg>
</body></html>
